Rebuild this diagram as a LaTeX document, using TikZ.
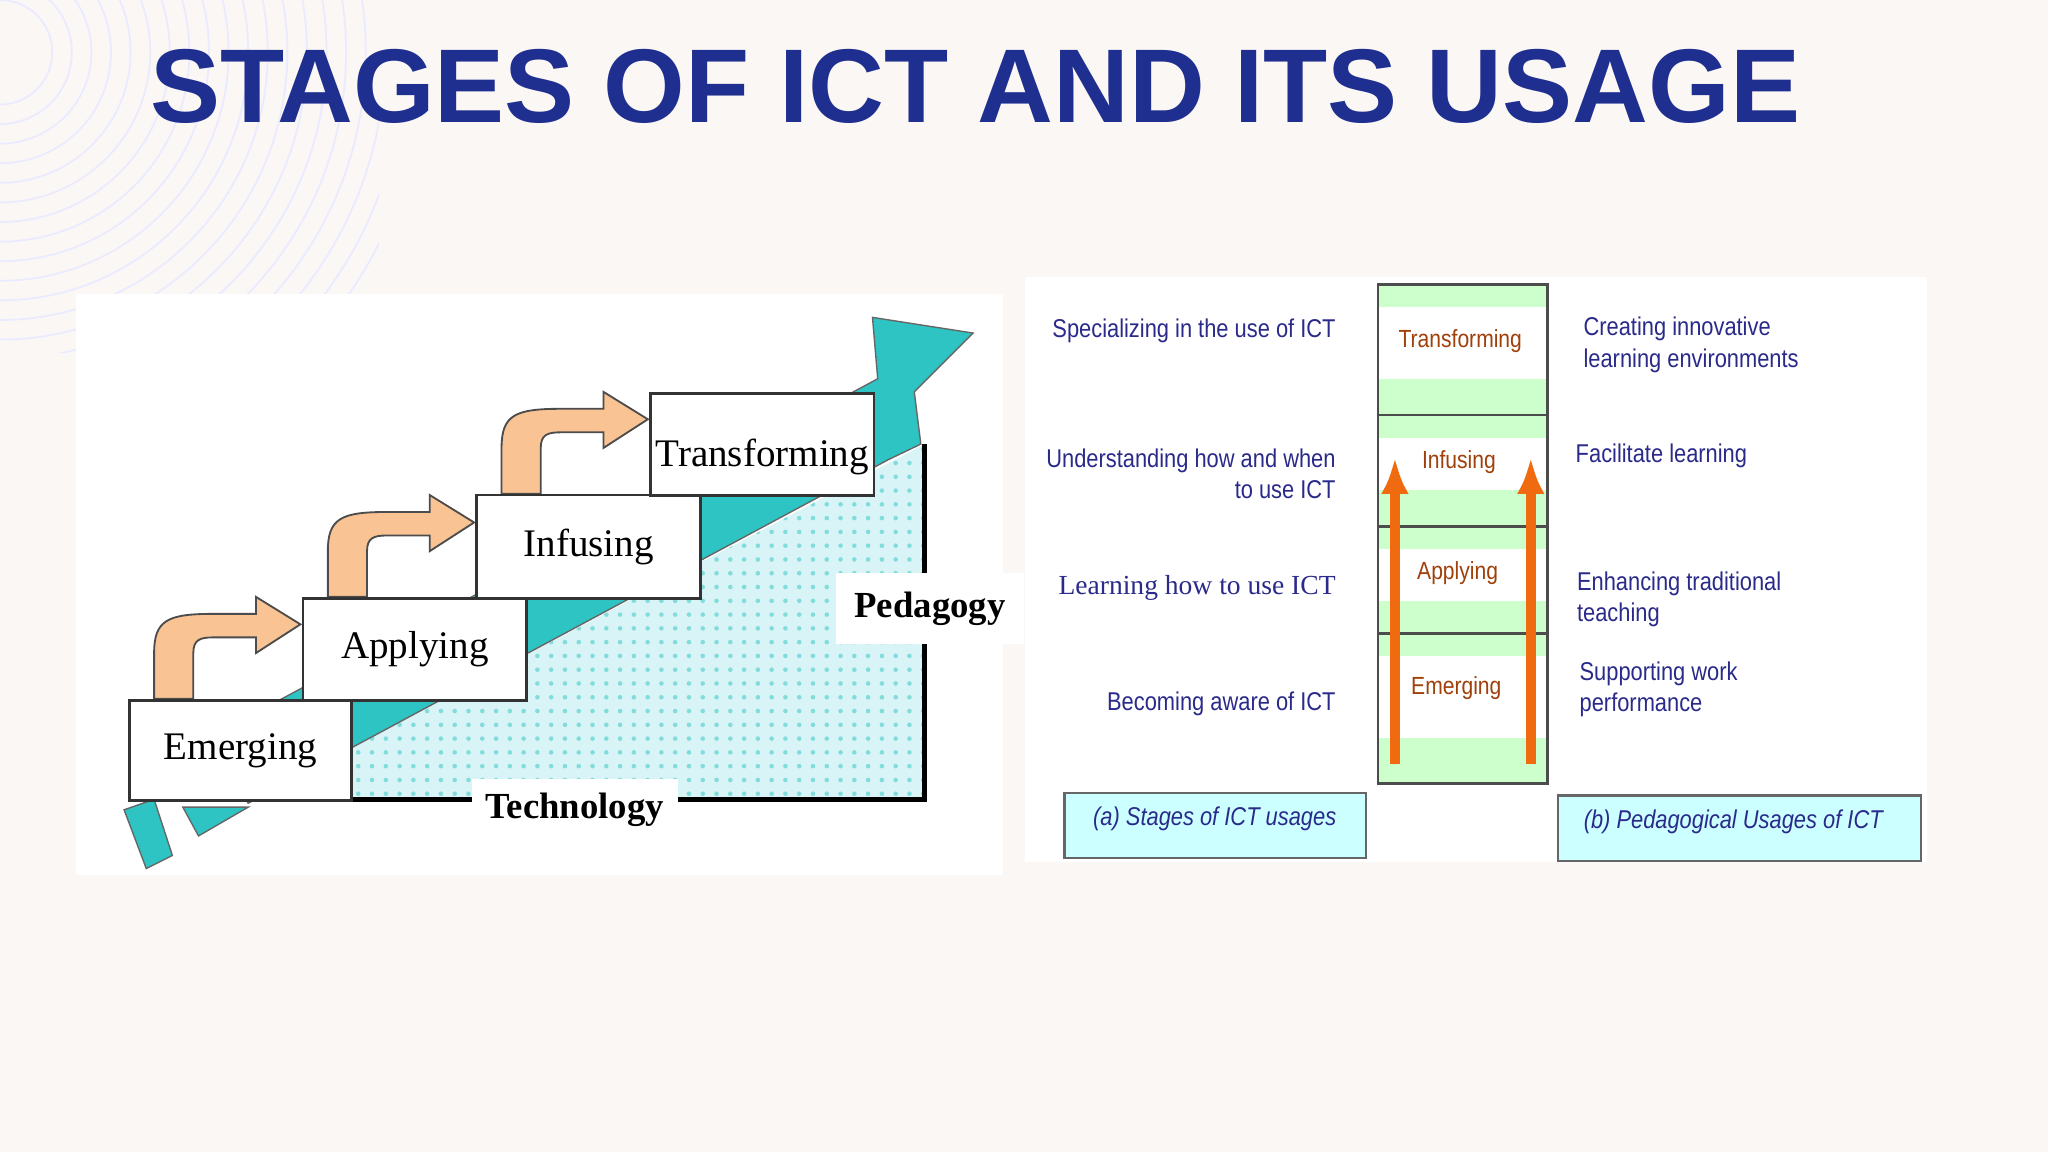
\documentclass[tikz,border=0pt]{standalone}
\usepackage{fontspec}
\setmainfont{Liberation Serif}
\newfontfamily\sansf[FakeStretch=0.85]{Liberation Sans}
\newfontfamily\titlef{Liberation Sans}
\usetikzlibrary{patterns,arrows.meta}
\definecolor{bgc}{HTML}{FBF7F5}
\definecolor{titleblue}{HTML}{1F2F8F}
\definecolor{teal1}{HTML}{2EC4C4}
\definecolor{peach}{HTML}{F9C394}
\definecolor{lblue}{HTML}{D8F4F6}
\definecolor{txtblue}{HTML}{2A2A8A}
\definecolor{lgreen}{HTML}{CCFFCC}
\definecolor{orng}{HTML}{F06A10}
\definecolor{brn}{HTML}{A0400A}
\definecolor{cyanb}{HTML}{CCFFFF}
\tikzset{
 stagebox/.style={draw=black!80,line width=0.6pt,fill=white},
 stagetxt/.style={font=\fontsize{8.5}{10}\selectfont},
 bendarrow/.style={draw=black!70,line width=0.4pt,fill=peach},
 ltxt/.style={font=\sansf\fontsize{5.6}{6.8}\selectfont,text=txtblue,align=right,anchor=east},
 rtxt/.style={font=\sansf\fontsize{5.6}{6.8}\selectfont,text=txtblue,align=left,anchor=west},
 ctxt/.style={font=\sansf\fontsize{5.4}{6.5}\selectfont,text=brn,fill=white,inner sep=2pt},
 capbox/.style={draw=black!60,line width=0.5pt,fill=cyanb},
 captxt/.style={font=\sansf\itshape\fontsize{5.6}{6.8}\selectfont,text=txtblue},
 uparr/.style={draw=orng,line width=2.2pt,-{Latex[length=8pt,width=6pt]}},
}
\begin{document}
\begin{tikzpicture}[x=0.01cm,y=-0.01cm]
\fill[bgc] (0,0) rectangle (1568,882);
\useasboundingbox (0,0) rectangle (1568,882);
\begin{scope}
\clip (0,0) rectangle (290,270);
\foreach \r in {40,55,...,330}{\draw[blue!8,line width=0.4pt] (0,40) circle[radius=\r];}
\end{scope}
% title
\node[anchor=west,text=titleblue] (title) at (103,66) {\resizebox{12.62cm}{0.56cm}{\titlef\bfseries STAGES OF ICT AND ITS USAGE}};
% LEFT DIAGRAM
\fill[white] (58,225) rectangle (768,670);
\fill[lblue] (270,572) -- (708,340) -- (708,612) -- (270,612) -- cycle;
\fill[pattern=dots,pattern color=teal1!60] (270,572) -- (708,340) -- (708,612) -- (270,612) -- cycle;
\draw[black,line width=1.2pt] (708,340) -- (708,612) -- (270,612);
\fill[teal1,draw=black!60,line width=0.3pt] (190,615) -- (680,352) -- (705,340) -- (700,300) -- (745,255) -- (668,243) -- (672,290) -- (160,565) -- cycle;
\fill[teal1,draw=black!60,line width=0.3pt] (95,620) -- (118,612) -- (132,655) -- (112,665) -- cycle;
\fill[teal1,draw=black!60,line width=0.3pt] (140,618) -- (190,618) -- (152,640) -- cycle;
% bend arrows
\foreach \x/\y in {118/535,251/457,384/378}{
 \filldraw[bendarrow] (\x,\y) -- (\x,\y-35) .. controls (\x,\y-60) and (\x+10,\y-65) .. (\x+45,\y-65)
   -- (\x+78,\y-65) -- (\x+78,\y-78) -- (\x+112,\y-57) -- (\x+78,\y-35) -- (\x+78,\y-47)
   -- (\x+45,\y-47) .. controls (\x+35,\y-47) and (\x+30,\y-45) .. (\x+30,\y-35) -- (\x+30,\y) -- cycle;
}
\node[stagebox,minimum width=1.7cm,minimum height=0.77cm,anchor=north west] (em) at (98,535) {};
\node[stagetxt] (emt) at (em.center) {Emerging};
\node[stagebox,minimum width=1.71cm,minimum height=0.78cm,anchor=north west] (ap) at (231,457) {};
\node[stagetxt] (apt) at (ap.center) {Applying};
\node[stagebox,minimum width=1.71cm,minimum height=0.79cm,anchor=north west] (inf) at (364,378) {};
\node[stagetxt] (inft) at (inf.center) {Infusing};
\node[stagebox,minimum width=1.71cm,minimum height=0.78cm,anchor=north west] (tr) at (497,300) {};
\node[stagetxt] (trt) at ([yshift=-0.1cm]tr.center) {Transforming};
\node[fill=white,font=\bfseries\fontsize{8}{9}\selectfont,inner sep=3pt] (tech) at (440,620) {Technology};
\node[fill=white,font=\bfseries\fontsize{8}{9}\selectfont,inner sep=4pt] (ped) at (712,466) {Pedagogy};
% RIGHT DIAGRAM
\fill[white] (785,212) rectangle (1475,660);
\foreach \a/\b in {218/235,290/318,318/335,375/403,403/420,460/485,485/502,565/600}{
 \fill[lgreen] (1055,\a) rectangle (1185,\b);}
\draw[black!70,line width=0.6pt] (1055,218) rectangle (1185,600);
\foreach \y in {318,403,485}{\draw[black!70,line width=0.5pt] (1055,\y) -- (1185,\y);}
\node[ctxt] (c1) at (1118,261) {Transforming};
\node[ctxt] (c2) at (1117,354) {Infusing};
\node[ctxt] (c3) at (1116,439) {Applying};
\node[ctxt] (c4) at (1115,527) {Emerging};
\coordinate (a1s) at (1068,585); \coordinate (a1e) at (1068,350);
\coordinate (a2s) at (1172,585); \coordinate (a2e) at (1172,350);
\draw[uparr] (a1s) -- (a1e);
\draw[uparr] (a2s) -- (a2e);
\node[ltxt] (l1) at (1035,253) {Specializing in the use of ICT};
\node[ltxt] (l2) at (1035,363) {Understanding how and when\\to use ICT};
\node[ltxt,font=\fontsize{6}{7}\selectfont] (l3) at (1035,450) {Learning how to use ICT};
\node[ltxt] (l4) at (1035,539) {Becoming aware of ICT};
\node[rtxt] (r1) at (1200,264) {Creating innovative\\learning environments};
\node[rtxt] (r2) at (1194,349) {Facilitate learning};
\node[rtxt] (r3) at (1195,459) {Enhancing traditional\\teaching};
\node[rtxt] (r4) at (1197,528) {Supporting work\\performance};
\draw[capbox] (815,607) rectangle (1046,657);
\node[captxt] (cap1) at (930,627) {(a) Stages of ICT usages};
\draw[capbox] (1193,609) rectangle (1471,659);
\node[captxt] (cap2) at (1327,629) {(b) Pedagogical Usages of ICT};
\end{tikzpicture}
\end{document}
